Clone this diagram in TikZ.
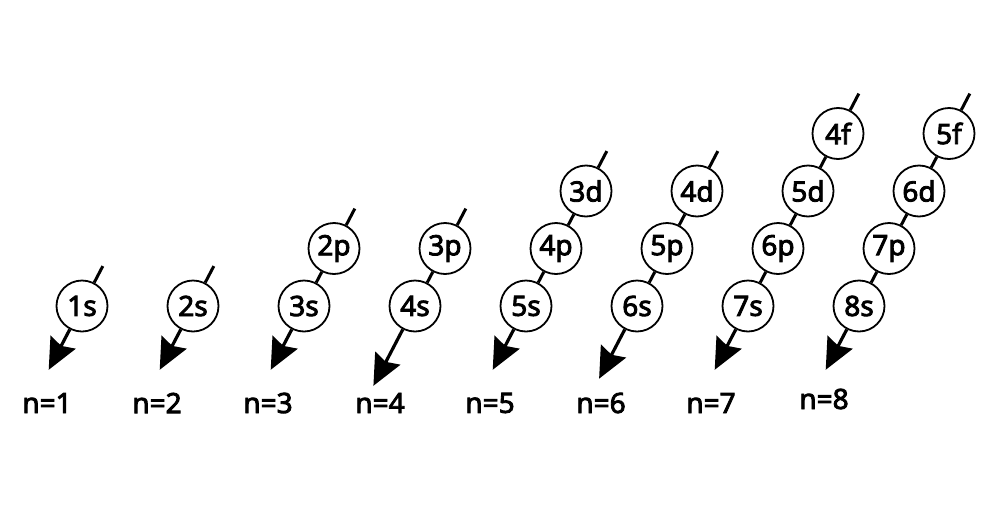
\documentclass[tikz,border=0pt]{standalone}
\usepackage{fontspec}
\newfontfamily\labfont{Noto Sans}[FakeBold=3]
\usetikzlibrary{arrows.meta}
\begin{document}
\begin{tikzpicture}[x=1pt,y=-1pt,
  orb/.style={circle,draw=black,line width=1.8pt,minimum size=51pt,inner sep=0pt,fill=white,font=\labfont\fontsize{28}{28}\selectfont},
  conn/.style={line width=3pt,black},
  arr/.style={line width=3.2pt,black,-{Stealth[length=31pt,width=28pt,inset=4pt]}},
  lab/.style={font=\labfont\fontsize{28}{28}\selectfont,inner sep=0pt}]
\useasboundingbox (0,0) rectangle (1000,506);
% column 1
\node[orb] (s1) at (82,306) {1s};
% column 2
\node[orb] (s2) at (193,306) {2s};
% column 3
\node[orb] (s3) at (304,306) {3s};
\node[orb] (p2) at (334,248.5) {2p};
% column 4
\node[orb] (s4) at (415,306) {4s};
\node[orb] (p3) at (445,248.5) {3p};
% column 5
\node[orb] (s5) at (526,306) {5s};
\node[orb] (p4) at (556,248.5) {4p};
\node[orb] (d3) at (586,191) {3d};
% column 6
\node[orb] (s6) at (637,306) {6s};
\node[orb] (p5) at (667,248.5) {5p};
\node[orb] (d4) at (697,191) {4d};
% column 7
\node[orb] (s7) at (748,306) {7s};
\node[orb] (p6) at (778,248.5) {6p};
\node[orb] (d5) at (808,191) {5d};
\node[orb] (f4) at (838,133.5) {4f};
% column 8
\node[orb] (s8) at (859,306) {8s};
\node[orb] (p7) at (889,248.5) {7p};
\node[orb] (d6) at (919,191) {6d};
\node[orb] (f5) at (949,133.5) {5f};
% tail end points
\coordinate (e1) at (102.8,266.1);
\coordinate (e2) at (213.8,266.1);
\coordinate (e3) at (354.8,208.6);
\coordinate (e4) at (465.8,208.6);
\coordinate (e5) at (606.8,151.1);
\coordinate (e6) at (717.8,151.1);
\coordinate (e7) at (858.8,93.6);
\coordinate (e8) at (969.8,93.6);
% arrow tips
\coordinate (a1) at (48.7,369.8);
\coordinate (a2) at (159.7,369.8);
\coordinate (a3) at (270.7,369.8);
\coordinate (a4) at (373.4,385.8);
\coordinate (a5) at (492.7,369.8);
\coordinate (a6) at (599.1,378.7);
\coordinate (a7) at (714.7,369.8);
\coordinate (a8) at (825.7,369.8);
% connectors
\draw[conn] (s1) -- (e1);
\draw[conn] (s2) -- (e2);
\draw[conn] (s3) -- (p2); \draw[conn] (p2) -- (e3);
\draw[conn] (s4) -- (p3); \draw[conn] (p3) -- (e4);
\draw[conn] (s5) -- (p4); \draw[conn] (p4) -- (d3); \draw[conn] (d3) -- (e5);
\draw[conn] (s6) -- (p5); \draw[conn] (p5) -- (d4); \draw[conn] (d4) -- (e6);
\draw[conn] (s7) -- (p6); \draw[conn] (p6) -- (d5); \draw[conn] (d5) -- (f4); \draw[conn] (f4) -- (e7);
\draw[conn] (s8) -- (p7); \draw[conn] (p7) -- (d6); \draw[conn] (d6) -- (f5); \draw[conn] (f5) -- (e8);
% arrows
\draw[arr] (s1) -- (a1);
\draw[arr] (s2) -- (a2);
\draw[arr] (s3) -- (a3);
\draw[arr] (s4) -- (a4);
\draw[arr] (s5) -- (a5);
\draw[arr] (s6) -- (a6);
\draw[arr] (s7) -- (a7);
\draw[arr] (s8) -- (a8);
% labels
\node[lab] (n1) at (47,403) {n=1};
\node[lab] (n2) at (157,403) {n=2};
\node[lab] (n3) at (268,403) {n=3};
\node[lab] (n4) at (380,403) {n=4};
\node[lab] (n5) at (490,403) {n=5};
\node[lab] (n6) at (601,403) {n=6};
\node[lab] (n7) at (711,403) {n=7};
\node[lab] (n8) at (824,399) {n=8};
\end{tikzpicture}
\end{document}
